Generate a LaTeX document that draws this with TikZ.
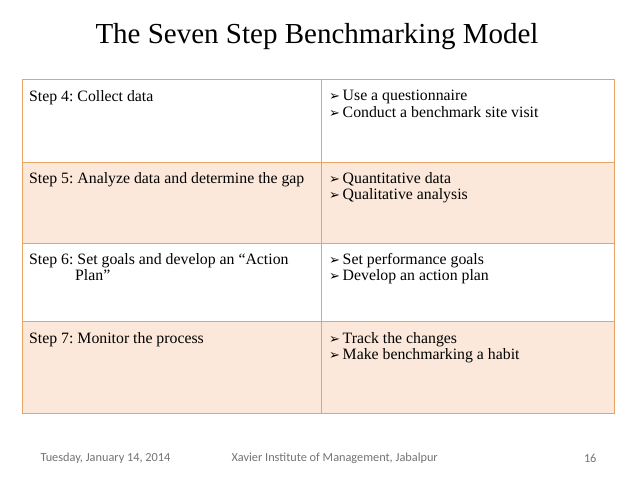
\documentclass[tikz,border=0pt]{standalone}
\usepackage{fontspec}
\setmainfont{Liberation Serif}
\newfontfamily\dvfont{DejaVu Sans}
\newfontfamily\carfont{Carlito}
\definecolor{bord}{HTML}{E8A465}
\definecolor{peach}{HTML}{FCE8DA}
\frenchspacing
\newcommand{\bl}{{\dvfont\fontsize{13}{12}\selectfont ➢}\,}
\tikzset{cell/.style={anchor=north west,inner sep=0pt,font=\fontsize{15.8}{16.5}\selectfont\frenchspacing,align=left},
foot/.style={font=\carfont\fontsize{12.3}{14}\selectfont,text=gray!90!black}}
\begin{document}
\begin{tikzpicture}[x=1pt,y=-1pt]
\useasboundingbox (0,0) rectangle (638,479);
\fill[peach] (22,162) rectangle (614,243);
\fill[peach] (22,321) rectangle (614,413);
\draw[bord,line width=1pt] (22,79) rectangle (614,413);
\foreach \y in {162,243,321} \draw[bord,line width=1pt] (22,\y) -- (614,\y);
\draw[bord,line width=1pt] (321,79) -- (321,413);
\node[font=\fontsize{29}{33}\selectfont] (title) at (317,37) {The Seven Step Benchmarking Model};
\node[cell] (a1) at (29,90) {Step 4: Collect data};
\node[cell] (b1) at (329,90) {\bl Use a questionnaire\\\bl Conduct a benchmark site visit};
\node[cell] (a2) at (29,172) {Step 5: Analyze data and determine the gap};
\node[cell] (b2) at (329,172) {\bl Quantitative data\\\bl Qualitative analysis};
\node[cell] (a3) at (29,253) {Step 6: Set goals and develop an “Action\\\hspace{46pt}Plan”};
\node[cell] (b3) at (329,253) {\bl Set performance goals\\\bl Develop an action plan};
\node[cell] (a4) at (29,332) {Step 7: Monitor the process};
\node[cell] (b4) at (329,332) {\bl Track the changes\\\bl Make benchmarking a habit};
\node[foot,anchor=west] (f1) at (37,458) {Tuesday, January 14, 2014};
\node[foot,anchor=west] (f2) at (228,458) {Xavier Institute of Management, Jabalpur};
\node[foot,anchor=east] (f3) at (600,458) {16};
\end{tikzpicture}
\end{document}
